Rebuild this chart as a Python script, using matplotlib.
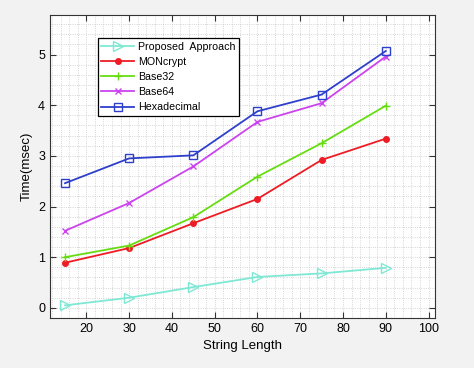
import matplotlib
matplotlib.use("Agg")
import matplotlib.pyplot as plt
from matplotlib.ticker import AutoMinorLocator

plt.rcParams["font.family"] = ["Liberation Sans", "DejaVu Sans"]

string_length = [15, 30, 45, 60, 75, 90]
proposed = [0.05, 0.20, 0.41, 0.61, 0.68, 0.79]
moncrypt = [0.89, 1.18, 1.67, 2.15, 2.92, 3.34]
base32 = [1.00, 1.23, 1.79, 2.59, 3.25, 3.99]
base64 = [1.52, 2.07, 2.79, 3.67, 4.04, 4.96]
hexadecimal = [2.46, 2.95, 3.01, 3.88, 4.21, 5.07]

fig = plt.figure(figsize=(4.74, 3.68), dpi=100, facecolor="#f2f2f2")
ax = fig.add_axes([50 / 474, 1 - 318 / 368, 385 / 474, 303 / 368])

ax.plot(string_length, proposed, color="#7fe8d4", marker=">", markersize=7,
        markerfacecolor="none", linewidth=1.3, label="Proposed  Approach")
ax.plot(string_length, moncrypt, color="#ee1c24", marker="o", markersize=4,
        linewidth=1.3, label="MONcrypt")
ax.plot(string_length, base32, color="#66dd11", marker="+", markersize=6,
        linewidth=1.3, label="Base32")
ax.plot(string_length, base64, color="#cc44ee", marker="x", markersize=5,
        linewidth=1.3, label="Base64")
ax.plot(string_length, hexadecimal, color="#2e3fcc", marker="s", markersize=6,
        markerfacecolor="none", linewidth=1.3, label="Hexadecimal")

ax.set_xlim(11.5, 101.5)
ax.set_ylim(-0.2, 5.78)
ax.set_xticks(range(20, 101, 10))
ax.set_yticks(range(0, 6))
ax.xaxis.set_minor_locator(AutoMinorLocator(5))
ax.yaxis.set_minor_locator(AutoMinorLocator(5))
ax.grid(which="both", linestyle=":", color="#c8c8c8", linewidth=0.6)
ax.tick_params(which="major", direction="in", top=True, right=True,
               labelsize=9, length=4, color="#333333")
ax.tick_params(which="minor", length=0)
for s in ax.spines.values():
    s.set_color("#333333")

ax.set_xlabel("String Length", fontsize=9.5)
ax.set_ylabel("Time(msec)", fontsize=9.5)

leg = ax.legend(loc="upper left", bbox_to_anchor=(0.124, 0.924), fontsize=7.7,
                frameon=True, fancybox=False, edgecolor="black", framealpha=1,
                borderpad=0.35, labelspacing=0.48, handlelength=3.0,
                handletextpad=0.4, borderaxespad=0)
leg.get_frame().set_linewidth(0.9)

fig.savefig("out.png", dpi=100, facecolor=fig.get_facecolor())
